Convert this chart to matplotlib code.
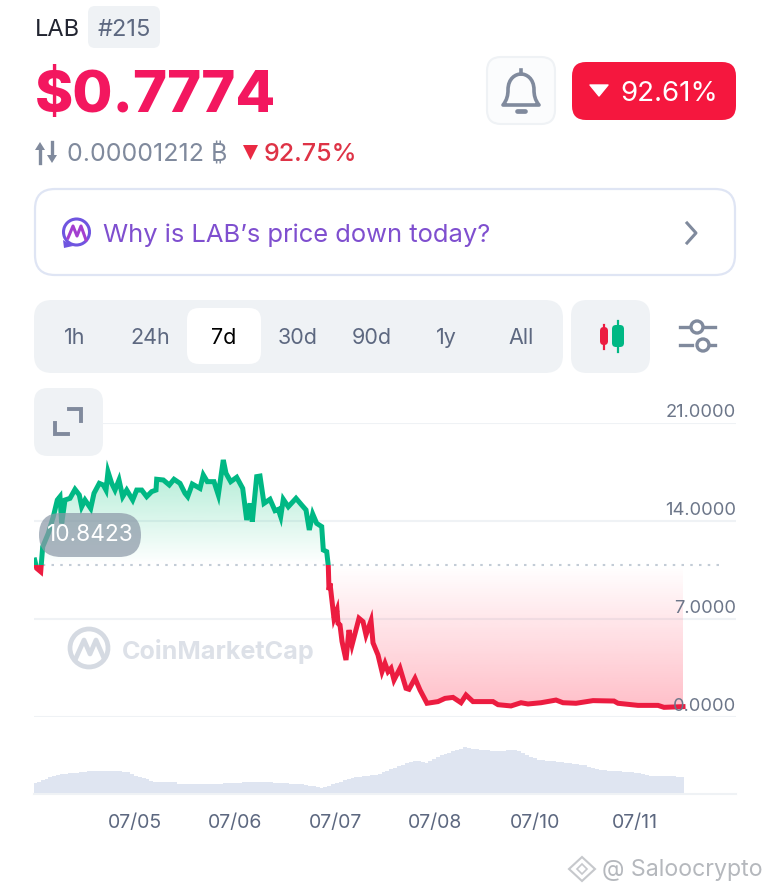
import numpy as np
import matplotlib
matplotlib.use('Agg')
import matplotlib.pyplot as plt
from matplotlib.patches import FancyBboxPatch, Rectangle, Circle, Polygon, PathPatch, Arc
from matplotlib.path import Path

plt.rcParams['font.family'] = ['Inter', 'DejaVu Sans']

# days relative to the 07/05 tick, prices in dollars
days = [-1.003, -0.983, -0.943, -0.923, -0.867, -0.817, -0.777, -0.75, -0.733, -0.70, -0.65, -0.60, -0.557,
        -0.533, -0.50, -0.443, -0.41, -0.357, -0.317, -0.29, -0.27, -0.233, -0.20, -0.16, -0.123, -0.083,
        -0.023, 0.017, 0.067, 0.117, 0.167, 0.21, 0.217, 0.283, 0.343, 0.39, 0.45, 0.50, 0.527, 0.573, 0.65,
        0.683, 0.723, 0.79, 0.833, 0.883, 0.91, 0.957, 1.017, 1.077, 1.117, 1.15, 1.173, 1.217, 1.25, 1.29,
        1.35, 1.40, 1.433, 1.457, 1.483, 1.533, 1.61, 1.667, 1.71, 1.743, 1.777, 1.817, 1.867, 1.883, 1.917,
        1.933, 1.94, 1.95, 1.965, 1.99, 2.02, 2.03, 2.05, 2.07, 2.11, 2.14, 2.17, 2.24, 2.28, 2.31, 2.36,
        2.38, 2.43, 2.47, 2.50, 2.53, 2.56, 2.59, 2.65, 2.71, 2.74, 2.80, 2.85, 2.92, 3.03, 3.10, 3.18, 3.26,
        3.31, 3.38, 3.58, 3.63, 3.76, 3.86, 3.93, 4.06, 4.21, 4.28, 4.41, 4.58, 4.79, 4.83, 5.03, 5.23, 5.29,
        5.48]
prices = [11.21, 10.62, 10.38, 12.16, 13.12, 14.31, 15.5, 15.74, 13.83, 15.5, 15.62, 16.26, 15.86,
          15.02, 15.5, 14.9, 15.98, 16.69, 16.57, 16.21, 17.52, 16.69, 16.21, 16.93, 15.74, 16.21,
          15.5, 16.21, 16.21, 15.74, 16.10, 16.21, 16.98, 16.93, 16.57, 16.98, 16.69, 15.98, 15.74, 16.64, 16.33,
          17.29, 16.81, 16.81, 15.86, 18.36, 17.41, 16.81, 17.12, 16.33, 14.07, 15.26, 13.95, 17.17, 17.21, 15.26,
          15.55, 14.74, 14.83, 14.31, 15.55, 15.02, 15.62, 15.14, 14.79, 13.36, 14.5, 13.83, 13.6, 11.93, 11.81,
          10.79, 9.07, 9.55, 8.6, 7.05, 7.64, 6.69, 6.57, 5.4, 4.07, 6.21, 5.14, 7.05, 6.81, 5.86, 6.88,
          5.3, 4.43, 3.24, 3.83, 3.24, 3.48, 2.64, 3.48, 2.05, 1.98, 2.76, 1.93, 0.98, 1.10, 1.33, 1.40, 1.02,
          1.57, 1.10, 1.10, 0.88, 0.79, 1.02, 0.93, 1.02, 1.21, 1.02, 0.98, 1.17, 1.14, 0.98, 0.83, 0.83, 0.69,
          0.74]
base_price = 10.8423

volume = [11, 12, 14, 15, 17, 18, 19, 20, 20, 21,
          21, 21, 22, 22, 23, 23, 23, 23, 23, 23,
          23, 23, 23, 22, 22, 20, 18, 17, 16, 15,
          13, 12, 12, 12, 12, 12, 12, 10, 10, 10,
          10, 10, 10, 10, 10, 10, 10, 10, 10, 11,
          11, 11, 11, 11, 12, 12, 12, 12, 12, 12,
          12, 12, 11, 11, 11, 11, 10, 10, 10, 10,
          9, 8, 8, 7, 6, 7, 8, 10, 11, 12,
          14, 15, 16, 17, 17, 18, 18, 19, 19, 20,
          22, 23, 25, 26, 28, 29, 31, 32, 33, 33,
          32, 31, 33, 35, 37, 39, 40, 41, 43, 44,
          45, 47, 46, 45, 45, 44, 44, 44, 43, 43,
          43, 43, 44, 44, 44, 43, 41, 39, 37, 36,
          34, 34, 33, 33, 33, 32, 32, 31, 31, 30,
          30, 29, 29, 27, 26, 25, 24, 24, 23, 23,
          23, 23, 22, 22, 22, 21, 21, 20, 19, 18,
          18, 18, 18, 18, 18, 18, 17, 17]

date_ticks = [0, 1, 2, 3, 4, 5]
date_labels = ['07/05', '07/06', '07/07', '07/08', '07/10', '07/11']
price_ticks = [0, 7, 14, 21]
price_labels = ['0.0000', '7.0000', '14.0000', '21.0000']
tab_labels = ['1h', '24h', '7d', '30d', '90d', '1y', 'All']

GREEN = '#00b884'
RED = '#ec1c40'
GRID = '#eff2f5'
GREY = '#808a9d'
TEXT = '#5d6880'
W, H = 770, 894

fig = plt.figure(figsize=(W / 100, H / 100), dpi=100, facecolor='white')


def ax_px(x0, y0, x1, y1, z):
    a = fig.add_axes([x0 / W, 1 - y1 / H, (x1 - x0) / W, (y1 - y0) / H], zorder=z)
    a.patch.set_alpha(0)
    a.axis('off')
    return a


def box(a, x0, y0, x1, y1, r, fc, ec='none', lw=0, z=2):
    a.add_patch(FancyBboxPatch((x0 + r, y0 + r), x1 - x0 - 2 * r, y1 - y0 - 2 * r,
                               boxstyle='round,pad=%f,rounding_size=%f' % (r, r),
                               fc=fc, ec=ec, lw=lw, zorder=z))


# page layer in pixel coordinates
ui = ax_px(0, 0, W, H, 1)
ui.set_xlim(0, W)
ui.set_ylim(H, 0)

ui.text(35, 30, 'LAB', fontsize=17, color='#222531', va='center')
box(ui, 88, 6, 160, 48, 7, GRID)
ui.text(124, 29.5, '#215', fontsize=17, color=TEXT, va='center', ha='center')
ui.text(35, 97, '$0.7774', fontsize=41.8, color='#f3175f', va='center', fontweight='heavy')

# bell button
box(ui, 487, 57, 555, 124, 14, '#fbfcfd', ec='#eff2f5', lw=1.5)
bell = Path([(503, 105), (507, 100), (508, 95), (508, 90), (508, 78), (516, 74), (521, 74),
             (526, 74), (534, 78), (534, 90), (534, 95), (535, 100), (539, 105), (503, 105)],
            [Path.MOVETO, Path.CURVE4, Path.CURVE4, Path.CURVE4, Path.CURVE4, Path.CURVE4, Path.CURVE4,
             Path.CURVE4, Path.CURVE4, Path.CURVE4, Path.CURVE4, Path.CURVE4, Path.CURVE4, Path.CLOSEPOLY])
ui.add_patch(PathPatch(bell, fc='none', ec=GREY, lw=2.6, zorder=3, joinstyle='round'))
ui.plot([521, 521], [70, 74], color=GREY, lw=2.6, zorder=3)
ui.plot([517, 525], [111, 111], color=GREY, lw=3.4, zorder=3, solid_capstyle='round')

# 24h change button
box(ui, 572, 62, 736, 120, 14, '#f5173e')
ui.add_patch(Polygon([(590, 85), (608, 85), (599, 96)], fc='white', ec='white', lw=1, joinstyle='round', zorder=3))
ui.text(669, 94, '92.61%', fontsize=20, color='white', va='center', ha='center', zorder=3)

# btc price row
ui.plot([40, 40], [149, 163], color=GREY, lw=2.4)
ui.add_patch(Polygon([(35, 150), (45, 150), (40, 142)], fc=GREY, ec='none'))
ui.plot([52, 52], [142, 156], color=GREY, lw=2.4)
ui.add_patch(Polygon([(47, 155), (57, 155), (52, 163)], fc=GREY, ec='none'))
ui.text(67, 154.5, '0.00001212 ₿', fontsize=18, color=GREY, va='center')
ui.add_patch(Polygon([(243, 145), (258, 145), (250.5, 160)], fc='#ea2a43', ec='none', zorder=3))
ui.text(264, 154.5, '92.75%', fontsize=18, color='#de3346', va='center', fontweight='medium')

# ai question card
box(ui, 35, 189, 735, 275, 20, 'white', ec='#dfe5f4', lw=1.6)
ui.add_patch(Arc((76.5, 232), 26, 26, theta1=0, theta2=360, ec='#6f55e0', lw=2.2, zorder=3))
ui.add_patch(Polygon([(63, 240), (64, 248), (73, 246)], fc='#6f55e0', ec='none', zorder=3))
ui.plot([68, 73, 77, 81, 86], [238, 226, 236, 226, 240], color='#a33fd0', lw=2.2, zorder=4)
ui.text(103, 235, 'Why is LAB’s price down today?', fontsize=18.4, color='#7f4fcf', va='center')
ui.plot([687, 696, 687], [223, 233, 243], color=GREY, lw=2.2, zorder=3)

# range tabs
box(ui, 34, 300, 563, 373, 18, GRID)
box(ui, 187, 308, 261, 364, 12, 'white', z=3)
for lab, x in zip(tab_labels, [75, 150, 224, 298, 372, 446, 521]):
    ui.text(x, 338, lab, fontsize=15.5, ha='center', va='center', zorder=4,
            color='black' if lab == '7d' else TEXT)

# candle button
box(ui, 571, 300, 650, 373, 16, GRID)
ui.plot([604, 604], [325, 349], color=RED, lw=1.6, zorder=3)
box(ui, 600, 327, 608, 345, 3.9, RED, z=3)
ui.plot([618, 618], [321, 352], color=GREEN, lw=1.6, zorder=3)
box(ui, 612, 325, 624, 347, 4, GREEN, z=3)

# settings icon
ui.plot([680, 688], [327, 327], color=GREY, lw=2.4)
ui.plot([705, 715], [327, 327], color=GREY, lw=2.4)
ui.plot([680, 692], [345, 345], color=GREY, lw=2.4)
ui.plot([709, 715], [345, 345], color=GREY, lw=2.4)
ui.add_patch(Circle((697, 327), 6, fc='none', ec=GREY, lw=2.4))
ui.add_patch(Circle((703, 345), 6, fc='none', ec=GREY, lw=2.4))

# watermark
ui.add_patch(Arc((89, 648), 38, 38, theta1=0, theta2=360, ec='#d5dae2', lw=3.4, zorder=1.5))
ui.plot([76, 84, 90, 96, 103], [658, 640, 654, 640, 656], color='#d5dae2', lw=3.4, zorder=1.5)
ui.text(122, 651, 'CoinMarketCap', fontsize=18.1, color='#dde1e8', va='center', fontweight='bold', zorder=1.5)

# footer mark
ui.add_patch(Polygon([(582, 857), (595, 869), (582, 881), (569, 869)], fc='none', ec='#c6c8cc', lw=1.5))
ui.add_patch(Polygon([(582, 864), (587, 869), (582, 874), (577, 869)], fc='none', ec='#c6c8cc', lw=1.2))
ui.text(602, 870, '@ Saloocrypto', fontsize=16.7, color='#b5b8bd', va='center')

# price panel, same x scale as the volume panel
ax = ax_px(34, 423, 736, 717, 2)
ax.axis('on')
for s in ax.spines.values():
    s.set_visible(False)
xlim = (-1.01, 6.01)
ylim = (0, 21)

d = np.array(days)
p = np.array(prices)

g_poly = ax.fill_between(d, p, base_price, where=p >= base_price, interpolate=True, alpha=0)
r_poly = ax.fill_between(d, p, base_price, where=p <= base_price, interpolate=True, alpha=0)

g_grad = np.zeros((256, 1, 4))
g_grad[..., :3] = matplotlib.colors.to_rgb('#16c784')
g_grad[:, 0, 3] = np.linspace(0.36, 0, 256)
im = ax.imshow(g_grad, extent=(xlim[0], xlim[1], base_price, 18.4), origin='upper', aspect='auto', zorder=1)
im.set_clip_path(Path.make_compound_path(*g_poly.get_paths()), transform=ax.transData)

r_grad = np.zeros((256, 1, 4))
r_grad[..., :3] = matplotlib.colors.to_rgb('#ff2a4a')
r_grad[:, 0, 3] = np.linspace(0, 0.32, 256)
im2 = ax.imshow(r_grad, extent=(xlim[0], xlim[1], 0, base_price), origin='upper', aspect='auto', zorder=1)
im2.set_clip_path(Path.make_compound_path(*r_poly.get_paths()), transform=ax.transData)

ax.axhline(base_price, xmax=691 / 702, color='#c3ccd6', lw=1.5, ls=(0, (1.2, 3)), zorder=2)

up, = ax.plot(d, p, color=GREEN, lw=3.6, solid_joinstyle='miter', zorder=4)
up.set_clip_path(Rectangle((xlim[0], base_price), 8, 20, transform=ax.transData))
down, = ax.plot(d, p, color=RED, lw=3.6, solid_joinstyle='miter', zorder=4)
down.set_clip_path(Rectangle((xlim[0], -2), 8, base_price + 2, transform=ax.transData))

ax.set_xlim(xlim)
ax.set_ylim(ylim)
ax.set_yticks(price_ticks)
ax.set_xticks([])
ax.set_yticklabels([])
ax.tick_params(left=False)
ax.grid(axis='y', color=GRID, lw=1.5, zorder=0)
ax.set_axisbelow(True)
for v, lab in zip(price_ticks, price_labels):
    ax.annotate(lab, (1, v), xycoords=('axes fraction', 'data'), xytext=(0, 1.5), textcoords='offset points',
                ha='right', va='bottom', fontsize=13.2, color='#6c7689', zorder=5, annotation_clip=False)

# volume panel
vx = ax_px(34, 730, 736, 794, 2)
vx.axis('on')
for s in vx.spines.values():
    s.set_visible(False)
vx.spines['bottom'].set_visible(True)
vx.spines['bottom'].set_color(GRID)
vx.spines['bottom'].set_linewidth(1.5)
vx.bar(np.linspace(-1.0, 5.47, len(volume)), volume, width=0.0415, color='#dfe5f1', lw=0, zorder=2)
vx.set_xlim(xlim)
vx.set_ylim(0, 64)
vx.set_yticks([])
vx.set_xticks(date_ticks)
vx.set_xticklabels(date_labels, fontsize=14, color=TEXT)
vx.tick_params(bottom=False, pad=11)

# drawn on top of the chart
top = ax_px(0, 0, W, H, 3)
top.set_xlim(0, W)
top.set_ylim(H, 0)
box(top, 34, 388, 103, 456, 14, GRID)
top.plot([55, 55, 68], [423, 434, 434], color=GREY, lw=2.8, solid_joinstyle='miter')
top.plot([69, 81, 81], [409, 409, 421], color=GREY, lw=2.8, solid_joinstyle='miter')
box(top, 39, 513, 141, 557, 22, (0.55, 0.6, 0.66, 0.72))
top.text(90, 535, '10.8423', fontsize=16.3, color='white', ha='center', va='center', zorder=5)

fig.savefig('out.png', dpi=100)
